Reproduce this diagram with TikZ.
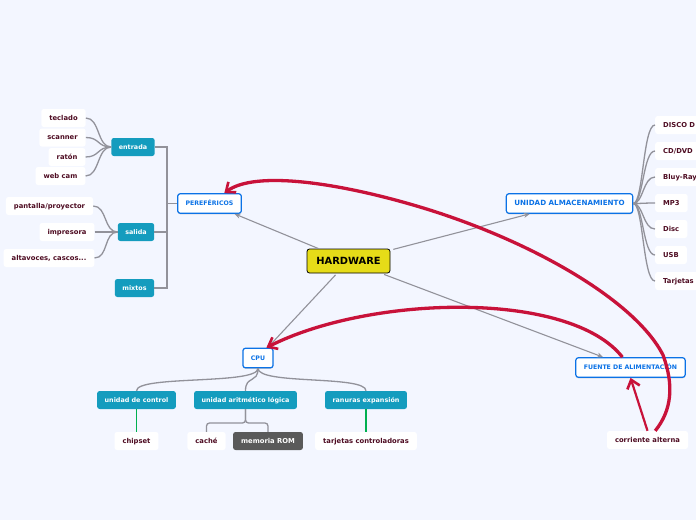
\documentclass[tikz,border=0pt]{standalone}
\usepackage{fontspec}
\setmainfont{DejaVu Sans}
\usetikzlibrary{arrows.meta,shadows}
\definecolor{pagebg}{HTML}{F3F6FF}
\definecolor{linegray}{HTML}{92929A}
\definecolor{mainblue}{HTML}{0B72E6}
\definecolor{teal}{HTML}{149CBE}
\definecolor{leaftext}{HTML}{4E0C22}
\definecolor{arrowred}{HTML}{C8123A}
\definecolor{rootyellow}{HTML}{E6DC18}
\definecolor{romgray}{HTML}{5A5A5A}
\definecolor{linkgreen}{HTML}{00B050}

\begin{document}
\begin{tikzpicture}[
  x=1pt, y=-1pt,
  root/.style={draw=black, fill=rootyellow, rounded corners=2.5pt, line width=0.8pt, minimum width=83pt, minimum height=24pt, inner sep=0pt, font=\fontsize{9.9}{12}\selectfont\bfseries},
  mainbox/.style={draw=mainblue, fill=white, rounded corners=2.5pt, line width=1.2pt, minimum height=19.5pt, text height=5pt, text depth=0.5pt, inner xsep=8pt, inner ysep=0pt, text=mainblue, font=\fontsize{6.2}{8}\selectfont\bfseries, drop shadow={shadow xshift=0pt, shadow yshift=-1pt, opacity=.35, fill=gray}},
  subbox/.style={fill=teal, rounded corners=2.5pt, minimum height=18pt, text height=5pt, text depth=0.5pt, inner xsep=7.5pt, inner ysep=0pt, text=white, font=\fontsize{6.4}{8}\selectfont\bfseries},
  leaf/.style={fill=white, rounded corners=2.5pt, minimum height=18pt, text height=5pt, text depth=0.5pt, inner xsep=8pt, inner ysep=0pt, text=leaftext, font=\fontsize{6.8}{8}\selectfont\bfseries},
  cutleaf/.style={leaf, anchor=west},
  longleaf/.style={cutleaf, text width=40pt, align=left},
  link/.style={draw=linegray, line width=1.3pt},
  fan/.style={out=0, in=180, out distance=14pt, in distance=14pt},
  hook/.style={out=0, in=180, out distance=10pt, in distance=12pt},
  spoke/.style={draw=linegray, line width=1.1pt, -{Stealth[length=6pt,width=5pt]}},
  greenlink/.style={draw=linkgreen, line width=1.5pt},
  redlink/.style={draw=arrowred, line width=3.3pt, -{Straight Barb[length=8pt,width=13pt,line width=2.6pt]}},
  >=stealth
]
\fill[pagebg] (0,0) rectangle (696,520);
\useasboundingbox (0,0) rectangle (696,520);
\clip (0,0) rectangle (696,520);

% Main nodes
\node[root] (hw) at (348.5,261) {HARDWARE};
\node[mainbox] (perif) at (209.5,203.5) {PEREFÉRICOS};
\node[mainbox, font=\fontsize{7.15}{8}\selectfont\bfseries] (storage) at (569.5,203.5) {UNIDAD ALMACENAMIENTO};
\node[mainbox] (cpu) at (258,358) {CPU};
\node[mainbox] (power) at (630.5,367.5) {FUENTE DE ALIMENTACIÓN};

% Peripherals
\node[subbox] (entrada) at (133,147) {entrada};
\node[subbox] (salida) at (136,232) {salida};
\node[subbox] (mixtos) at (134.5,288) {mixtos};
\node[leaf] (teclado) at (63.5,118) {teclado};
\node[leaf] (scanner) at (62.5,137.5) {scanner};
\node[leaf] (raton) at (67,157) {ratón};
\node[leaf] (webcam) at (60.5,176) {web cam};
\node[leaf] (pantalla) at (49.5,206) {pantalla/proyector};
\node[leaf] (impresora) at (67,232) {impresora};
\node[leaf] (altavoces) at (49,258) {altavoces, cascos...};

% Storage
\node[longleaf] (disco) at (655,125) {DISCO D};
\node[longleaf] (cddvd) at (655,151) {CD/DVD};
\node[longleaf] (bluray) at (655,177) {Bluy-Ray};
\node[cutleaf] (mp3) at (655,203) {MP3};
\node[cutleaf] (disc) at (655,229) {Disc};
\node[cutleaf] (usb) at (655,255) {USB};
\node[longleaf] (tarjetas) at (655,281) {Tarjetas};

% CPU parts
\node[subbox] (control) at (136.5,400) {unidad de control};
\node[subbox] (alu) at (245.5,400) {unidad aritmético lógica};
\node[subbox] (ranuras) at (366,400) {ranuras expansión};
\node[leaf] (chipset) at (136.5,441) {chipset};
\node[leaf] (cache) at (206.5,441) {caché};
\node[leaf, fill=romgray, text=white] (rom) at (268,441) {memoria ROM};
\node[leaf] (controladoras) at (366,441) {tarjetas controladoras};
\node[leaf] (corriente) at (647.5,440) {corriente alterna};

% Helper points
\coordinate (perifbus) at (167,203.5);
\coordinate (alubus) at (245.5,423);

% Spokes from the root
\draw[spoke] (hw) -- (perif);
\draw[spoke, shorten <=3pt] (hw) -- (storage);
\draw[spoke, shorten <=2pt] (hw) -- (cpu);
\draw[spoke, shorten <=3pt] (hw) -- (power);

% Peripheral branches
\draw[link] (entrada.east) -| (perifbus);
\draw[link] (mixtos.east) -| (perifbus);
\draw[link] (salida.east) -- (salida -| perifbus);
\draw[link] (perifbus) -- (perif.west);
\draw[link] (teclado.east) to[fan] (entrada.west);
\draw[link] (scanner.east) to[fan] (entrada.west);
\draw[link] (raton.east) to[fan] (entrada.west);
\draw[link] (webcam.east) to[fan] (entrada.west);
\draw[link] (pantalla.east) to[fan] (salida.west);
\draw[link] (impresora.east) to[fan] (salida.west);
\draw[link] (altavoces.east) to[fan] (salida.west);

% Storage branches
\draw[link] (storage.east) to[hook] (disco.west);
\draw[link] (storage.east) to[hook] (cddvd.west);
\draw[link] (storage.east) to[hook] (bluray.west);
\draw[link] (storage.east) to[hook] (mp3.west);
\draw[link] (storage.east) to[hook] (disc.west);
\draw[link] (storage.east) to[hook] (usb.west);
\draw[link] (storage.east) to[hook] (tarjetas.west);

% CPU branches
\draw[link] (cpu.south) .. controls (258,385) and (136.5,375) .. (control.north);
\draw[link] (cpu.south) .. controls (258,384) and (245.5,375) .. (alu.north);
\draw[link] (cpu.south) .. controls (258,385) and (366,375) .. (ranuras.north);
\draw[link, rounded corners=3pt] (alu.south) -- (alubus) -| (cache.north);
\draw[link, rounded corners=3pt] (alu.south) -- (alubus) -| (rom.north);
\draw[greenlink] (control.south) -- (chipset.north);
\draw[greenlink] (ranuras.south) -- (controladoras.north);

% Red relations
\draw[redlink] (power.128) .. controls (570,290) and (370,295) .. (cpu.51);
\draw[redlink] (corriente.50) .. controls (672,410) and (674,385) .. (663,355)
  .. controls (635,300) and (530,240) .. (420,207)
  .. controls (340,183) and (255,170) .. (perif.35);
\draw[redlink, line width=2.2pt] (corriente.north) -- (power.south);

\end{tikzpicture}
\end{document}
